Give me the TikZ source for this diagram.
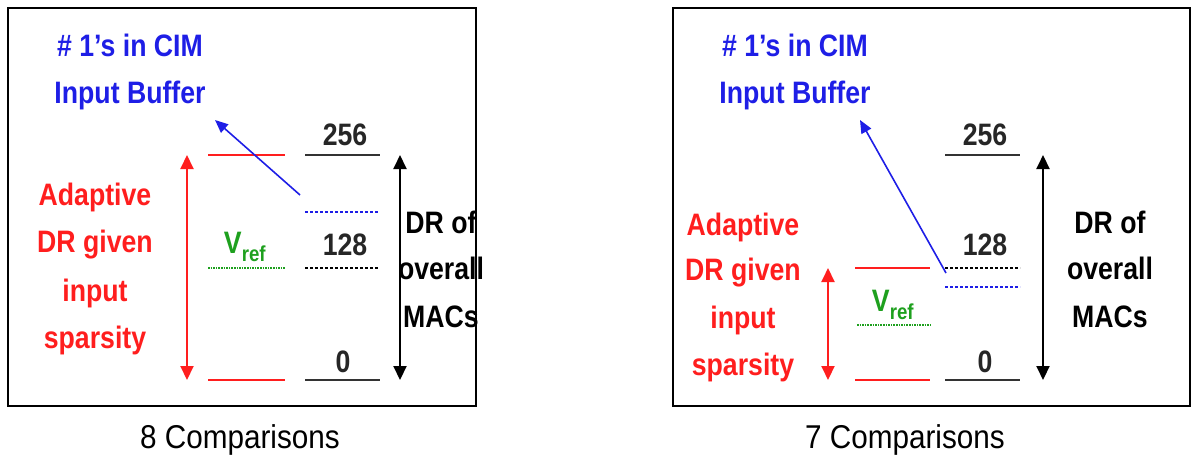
\documentclass[tikz,border=0pt]{standalone}
\usepackage{fontspec}
\setmainfont{Liberation Sans}
\usetikzlibrary{arrows.meta}
\definecolor{rd}{RGB}{255,30,30}
\definecolor{bl}{RGB}{30,30,230}
\definecolor{gn}{RGB}{30,160,30}
\tikzset{
 lab/.style={font=\fontsize{31}{34}\selectfont\bfseries,inner sep=0pt,align=center,xscale=0.86,transform shape},
 captxt/.style={font=\fontsize{33}{36}\selectfont,inner sep=0pt,xscale=0.9,transform shape},
 lvl/.style={line width=2pt},
 dbl/.style={line width=2pt,{Triangle[length=14pt,width=13pt]}-{Triangle[length=14pt,width=13pt]}},
 ptr/.style={bl,line width=1.6pt,-{Triangle[length=13pt,width=11pt]}},
 frame/.style={draw,line width=2.5pt}
}
\begin{document}
\begin{tikzpicture}[x=1pt,y=-1pt]
\useasboundingbox (0,0) rectangle (1198,467);
% ===== left panel =====
\draw[frame] (8,8) rectangle (476,406);
\node[lab,bl] (lt1) at (130,45) {\# 1's in CIM};
\node[lab,bl] (lt2) at (130,95) {Input Buffer};
\coordinate (la) at (208,155); \coordinate (lb) at (285,155);
\draw[lvl,rd] (la) -- (lb);
\draw[lvl,black!80] (305,155) -- (380,155);
\node[lab,black!85] (l256) at (345,135) {256};
\draw[lvl,bl,densely dashed,line width=1.4pt] (305,212) -- (378,212);
\coordinate (lpa) at (300,195); \coordinate (lpb) at (215,120);
\draw[ptr] (lpa) -- (lpb);
\draw[gn,line width=1.6pt,densely dotted] (208,268) -- (285,268);
\node[lab,gn] (lvr) at (245,247) {V\textsubscript{ref}};
\draw[black,line width=1.4pt,densely dashed] (305,268) -- (378,268);
\node[lab,black!85] (l128) at (345,245) {128};
\draw[lvl,rd] (208,380) -- (285,380);
\draw[lvl,black!80] (305,380) -- (380,380);
\node[lab,black!85] (l0) at (343,362) {0};
\coordinate (lrt) at (187,155); \coordinate (lrb) at (187,380);
\draw[dbl,rd] (lrt) -- (lrb);
\coordinate (lkt) at (400,155); \coordinate (lkb) at (400,380);
\draw[dbl,black] (lkt) -- (lkb);
\node[lab,rd] at (95,197) {Adaptive};
\node[lab,rd] at (95,245) {DR given};
\node[lab,rd] at (95,293) {input};
\node[lab,rd] at (95,340) {sparsity};
\node[lab] at (441,222) {DR of};
\node[lab] at (441,268) {overall};
\node[lab] at (441,317) {MACs};
\node[captxt] (c8) at (240,440) {8 Comparisons};
% ===== right panel =====
\draw[frame] (673,8) rectangle (1190,406);
\node[lab,bl] (rt1) at (795,45) {\# 1's in CIM};
\node[lab,bl] (rt2) at (795,95) {Input Buffer};
\draw[lvl,black!80] (945,155) -- (1020,155);
\node[lab,black!85] (r256) at (985,135) {256};
\draw[lvl,rd] (855,268) -- (930,268);
\draw[black,line width=1.4pt,densely dashed] (945,268) -- (1020,268);
\node[lab,black!85] (r128) at (985,245) {128};
\draw[bl,line width=1.4pt,densely dashed] (945,287) -- (1020,287);
\coordinate (rpa) at (946,273); \coordinate (rpb) at (860,120);
\draw[ptr] (rpa) -- (rpb);
\draw[gn,line width=1.6pt,densely dotted] (857,325) -- (930,325);
\node[lab,gn] (rvr) at (893,305) {V\textsubscript{ref}};
\draw[lvl,rd] (855,380) -- (930,380);
\draw[lvl,black!80] (945,380) -- (1020,380);
\node[lab,black!85] (r0) at (985,362) {0};
\coordinate (rrt) at (828,268); \coordinate (rrb) at (828,380);
\draw[dbl,rd] (rrt) -- (rrb);
\coordinate (rkt) at (1043,155); \coordinate (rkb) at (1043,380);
\draw[dbl,black] (rkt) -- (rkb);
\node[lab,rd] at (743,227) {Adaptive};
\node[lab,rd] at (743,273) {DR given};
\node[lab,rd] at (743,320) {input};
\node[lab,rd] at (743,367) {sparsity};
\node[lab] at (1110,222) {DR of};
\node[lab] at (1110,268) {overall};
\node[lab] at (1110,317) {MACs};
\node[captxt] (c7) at (905,440) {7 Comparisons};
\end{tikzpicture}
\end{document}
